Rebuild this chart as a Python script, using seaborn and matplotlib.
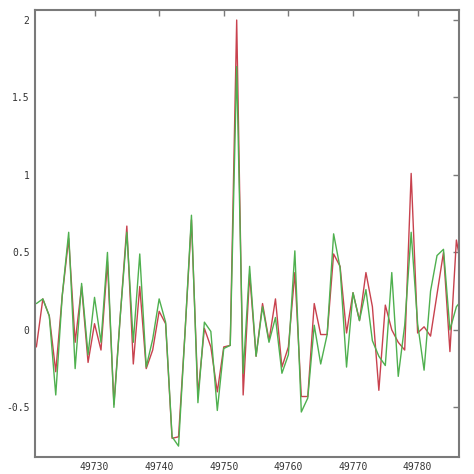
import pandas as pd
import matplotlib
matplotlib.use("Agg")
import matplotlib.pyplot as plt
import matplotlib.ticker as mticker
import seaborn as sns

# days (MJD) and the two series
days = list(range(49721, 49788))

red_vals = [
    -0.11, 0.20, 0.09, -0.27, 0.22, 0.59, -0.08, 0.28, -0.21, 0.04,
    -0.13, 0.44, -0.48, 0.10, 0.67, -0.22, 0.28, -0.25, -0.13, 0.12,
    0.04, -0.70, -0.69, -0.02, 0.71, -0.42, 0.01, -0.11, -0.40, -0.11,
    -0.10, 2.00, -0.42, 0.36, -0.17, 0.17, -0.07, 0.20, -0.24, -0.11,
    0.37, -0.43, -0.43, 0.17, -0.03, -0.03, 0.49, 0.41, -0.02, 0.24,
    0.06, 0.37, 0.15, -0.39, 0.16, 0.00, -0.08, -0.13, 1.01, -0.02,
    0.02, -0.04, 0.23, 0.50, -0.14, 0.58, 0.35,
]

green_vals = [
    0.17, 0.20, 0.09, -0.42, 0.22, 0.63, -0.25, 0.30, -0.16, 0.21,
    -0.08, 0.50, -0.50, 0.10, 0.63, -0.08, 0.49, -0.24, -0.06, 0.20,
    0.05, -0.69, -0.75, -0.02, 0.74, -0.47, 0.05, -0.01, -0.52, -0.12,
    -0.10, 1.70, -0.28, 0.41, -0.17, 0.15, -0.08, 0.08, -0.28, -0.16,
    0.51, -0.53, -0.44, 0.03, -0.22, -0.03, 0.62, 0.40, -0.24, 0.24,
    0.06, 0.26, -0.07, -0.17, -0.23, 0.37, -0.30, 0.03, 0.63, 0.04,
    -0.26, 0.25, 0.48, 0.52, 0.00, 0.15, 0.20,
]

x_ticks = [49730, 49740, 49750, 49760, 49770, 49780]
y_ticks = [-0.5, 0, 0.5, 1, 1.5, 2]

# long-form table for seaborn
df = pd.DataFrame({
    "day": days + days,
    "value": red_vals + green_vals,
    "series": ["red"] * len(days) + ["green"] * len(days),
})

sns.set_style("white")
plt.rcParams["font.family"] = ["DejaVu Sans Mono"]

fig = plt.figure(figsize=(4.74, 4.74), dpi=100)
ax = fig.add_axes([0.074, 0.036, 0.895, 0.943])

sns.lineplot(data=df, x="day", y="value", hue="series",
             palette={"red": "#c8424e", "green": "#4fb04f"},
             linewidth=1.0, legend=False, ax=ax)

ax.set_xlim(49720.8, 49786.45)
ax.set_ylim(-0.82, 2.065)
ax.set_xticks(x_ticks)
ax.set_yticks(y_ticks)
ax.yaxis.set_major_formatter(mticker.FormatStrFormatter("%g"))
ax.set_xlabel("")
ax.set_ylabel("")

for s in ax.spines.values():
    s.set_color("#7a7a7a")
    s.set_linewidth(1.5)

ax.tick_params(direction="in", length=4, width=1, color="#7a7a7a",
               top=True, right=True, labelsize=7, labelcolor="#333333", pad=4)

fig.savefig("out.png", dpi=100)
